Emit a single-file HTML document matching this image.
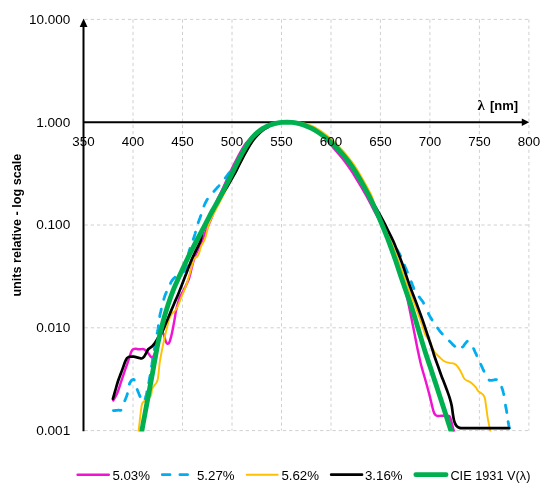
<!DOCTYPE html>
<html><head><meta charset="utf-8"><title>chart</title>
<style>html,body{margin:0;padding:0;background:#fff}body{width:550px;height:491px;overflow:hidden}</style>
</head><body>
<svg width="550" height="491" viewBox="0 0 550 491" style="display:block">
<defs><clipPath id="pc"><rect x="83" y="18" width="447" height="413.4"/></clipPath></defs>
<rect width="550" height="491" fill="#fff"/>
<g stroke="#d0d0d0" stroke-width="1" stroke-dasharray="3.3 2.9" fill="none">
<path d="M84.5 19.4 H529"/>
<path d="M84.5 225.0 H529"/>
<path d="M84.5 327.8 H529"/>
<path d="M84.5 430.6 H529"/>
<path d="M133.0 19.4 V430.6"/>
<path d="M182.5 19.4 V430.6"/>
<path d="M232.0 19.4 V430.6"/>
<path d="M281.5 19.4 V430.6"/>
<path d="M331.0 19.4 V430.6"/>
<path d="M380.4 19.4 V430.6"/>
<path d="M429.9 19.4 V430.6"/>
<path d="M479.4 19.4 V430.6"/>
<path d="M528.9 19.4 V430.6"/>
</g>
<g stroke="#000" stroke-width="2" fill="none"><path d="M83.5 25 V431.2"/><path d="M83.5 122.2 H523"/></g>
<path d="M83.6 18.6 L87.5 27 H79.7 Z" fill="#000"/>
<path d="M529.2 122.2 L521.8 118.5 V125.9 Z" fill="#000"/>
<g font-family="'Liberation Sans', sans-serif" font-size="13" fill="#000">
<text x="29.0" y="23.7" textLength="41.3" lengthAdjust="spacingAndGlyphs">10.000</text>
<text x="36.2" y="126.5" textLength="34.1" lengthAdjust="spacingAndGlyphs">1.000</text>
<text x="36.2" y="229.3" textLength="34.1" lengthAdjust="spacingAndGlyphs">0.100</text>
<text x="36.2" y="332.1" textLength="34.1" lengthAdjust="spacingAndGlyphs">0.010</text>
<text x="36.2" y="434.9" textLength="34.1" lengthAdjust="spacingAndGlyphs">0.001</text>
</g>
<g font-family="'Liberation Sans', sans-serif" font-size="13" font-weight="bold" fill="#000">
<text x="477.5" y="110.1"><tspan font-family="'Liberation Serif', serif" font-weight="bold" font-size="15">λ</tspan><tspan dx="5.1">[nm]</tspan></text>
<text transform="translate(20.5 296.6) rotate(-90)" textLength="142.8" lengthAdjust="spacingAndGlyphs">units relative - log scale</text>
</g>
<g clip-path="url(#pc)" fill="none" stroke-linejoin="round" stroke-linecap="round">
<path d="M113.30 400.40 C113.95 399.22 115.93 396.32 117.20 393.30 C118.47 390.28 119.67 385.97 120.90 382.30 C122.13 378.63 123.48 374.55 124.60 371.30 C125.72 368.05 126.70 365.45 127.60 362.80 C128.50 360.15 129.38 357.23 130.00 355.40 C130.62 353.57 130.78 352.82 131.30 351.80 C131.82 350.78 132.38 349.82 133.10 349.30 C133.82 348.78 134.68 348.70 135.60 348.70 C136.52 348.70 137.58 349.23 138.60 349.30 C139.62 349.37 140.78 349.10 141.70 349.10 C142.62 349.10 143.30 348.95 144.10 349.30 C144.90 349.65 145.68 350.38 146.50 351.20 C147.32 352.02 148.28 353.28 149.00 354.20 C149.72 355.12 150.18 356.18 150.80 356.70 C151.42 357.22 152.00 357.92 152.70 357.30 C153.40 356.68 154.20 355.05 155.00 353.00 C155.80 350.95 156.67 347.75 157.50 345.00 C158.33 342.25 159.25 338.53 160.00 336.50 C160.75 334.47 161.37 333.12 162.00 332.80 C162.63 332.48 163.18 333.18 163.80 334.60 C164.42 336.02 165.08 339.77 165.70 341.30 C166.32 342.83 166.90 343.60 167.50 343.80 C168.10 344.00 168.68 343.73 169.30 342.50 C169.92 341.27 170.58 338.83 171.20 336.40 C171.82 333.97 172.40 330.95 173.00 327.90 C173.60 324.85 174.30 320.95 174.80 318.10 C175.30 315.25 175.48 313.25 176.00 310.80 C176.52 308.35 177.18 305.85 177.90 303.40 C178.62 300.95 179.35 298.27 180.30 296.10 C181.25 293.93 182.13 293.38 183.60 290.40 C185.07 287.42 187.67 282.33 189.10 278.20 C190.53 274.07 191.18 269.33 192.20 265.60 C193.22 261.87 194.08 258.67 195.20 255.80 C196.32 252.93 197.68 251.05 198.90 248.40 C200.12 245.75 201.39 242.63 202.50 239.90 C203.61 237.17 204.51 234.65 205.58 232.00 C206.65 229.35 207.82 226.67 208.94 224.00 C210.05 221.33 211.31 218.67 212.28 216.00 C213.24 213.33 213.91 210.67 214.74 208.00 C215.56 205.33 216.16 202.67 217.23 200.00 C218.30 197.33 219.74 195.00 221.17 192.00 C222.60 189.00 224.36 185.17 225.81 182.00 C227.27 178.83 228.57 175.85 229.90 173.00 C231.23 170.15 232.46 167.57 233.78 164.90 C235.09 162.23 236.55 159.38 237.80 157.00 C239.06 154.62 240.14 152.60 241.30 150.60 C242.46 148.60 243.71 146.53 244.77 145.00 C245.83 143.47 246.50 142.73 247.67 141.40 C248.83 140.07 250.53 138.11 251.76 137.00 C252.98 135.89 253.63 135.85 255.00 134.76 C256.37 133.67 258.33 131.70 260.00 130.45 C261.67 129.21 263.33 128.20 265.00 127.31 C266.67 126.41 268.33 125.70 270.00 125.08 C271.67 124.46 273.33 123.98 275.00 123.58 C276.67 123.18 278.33 122.90 280.00 122.69 C281.67 122.47 283.33 122.35 285.00 122.29 C286.67 122.23 288.33 122.24 290.00 122.34 C291.67 122.44 293.33 122.62 295.00 122.89 C296.67 123.16 298.33 123.52 300.00 123.96 C301.67 124.40 303.33 124.93 305.00 125.54 C306.67 126.16 308.33 126.86 310.00 127.66 C311.67 128.46 313.33 129.35 315.00 130.34 C316.67 131.33 318.10 132.13 320.00 133.57 C321.90 135.02 324.79 137.43 326.37 139.00 C327.96 140.57 328.44 141.67 329.50 143.00 C330.56 144.33 331.66 145.67 332.75 147.00 C333.85 148.33 334.45 149.08 336.08 151.00 C337.70 152.92 340.73 156.33 342.50 158.50 C344.27 160.67 345.30 162.10 346.68 164.00 C348.06 165.90 349.33 167.73 350.76 169.90 C352.20 172.07 353.40 173.98 355.27 177.00 C357.13 180.02 360.18 185.00 361.96 188.00 C363.73 191.00 364.60 192.58 365.92 195.00 C367.25 197.42 368.62 200.00 369.93 202.50 C371.23 205.00 372.36 207.30 373.78 210.00 C375.20 212.70 376.91 215.86 378.45 218.70 C379.98 221.54 381.07 222.65 383.00 227.02 C384.93 231.38 387.67 238.59 390.00 244.87 C392.33 251.15 394.83 258.43 397.00 264.70 C399.17 270.96 401.30 276.89 403.00 282.44 C404.70 287.99 405.82 292.14 407.20 298.00 C408.58 303.86 410.07 311.62 411.30 317.60 C412.53 323.58 413.52 328.47 414.60 333.90 C415.68 339.33 416.72 345.02 417.80 350.20 C418.88 355.38 419.83 360.03 421.10 365.00 C422.37 369.97 423.97 374.85 425.40 380.00 C426.83 385.15 428.38 390.80 429.70 395.90 C431.02 401.00 432.38 407.45 433.30 410.60 C434.22 413.75 434.48 413.90 435.20 414.80 C435.92 415.70 436.58 415.85 437.60 416.00 C438.62 416.15 440.07 415.73 441.30 415.70 C442.53 415.67 443.68 415.75 445.00 415.80 C446.32 415.85 448.20 415.25 449.20 416.00 C450.20 416.75 450.38 418.35 451.00 420.30 C451.62 422.25 452.42 425.87 452.90 427.70 C453.38 429.53 453.55 429.92 453.90 431.30 C454.25 432.68 454.82 435.22 455.00 436.00" stroke="#f013d2" stroke-width="2.45"/>
<path d="M113.4 410.6 L113.6 410.6 L114.3 410.6 L115.1 410.5 L115.9 410.4 L116.7 410.3 L117.4 410.3 L118.0 410.2 L118.5 410.2 L119.0 410.2 L119.5 410.3 L119.9 410.4 L120.3 410.4 L120.7 410.3 L120.9 410.2 M124.8 400.8 L125.0 400.3 L125.4 399.3 L125.8 398.2 L126.2 397.2 L126.6 396.2 L126.9 395.2 L127.3 394.2 L127.4 393.6 M129.4 384.1 L129.7 383.5 L129.9 382.8 L130.2 382.3 L130.5 381.9 L130.7 381.5 L131.0 381.1 L131.3 380.8 L131.5 380.5 L131.7 380.2 L131.9 380.0 L132.1 379.9 L132.3 379.8 L132.5 379.7 L132.7 379.6 L132.9 379.6 L133.1 379.6 L133.3 379.6 L133.4 379.5 L133.6 379.5 L133.7 379.5 L133.9 379.5 L134.1 379.7 L134.3 380.0 L134.3 380.1 M137.2 389.5 L137.4 390.0 L137.8 391.1 L138.2 392.2 L138.7 393.2 L139.1 394.3 L139.5 395.3 L140.0 396.2 L140.1 396.5 M145.1 399.2 L145.1 399.0 L145.4 398.3 L145.6 397.5 L145.8 396.7 L146.0 395.8 L146.3 394.8 L146.5 393.8 L146.7 392.7 L146.8 391.9 M148.7 382.9 L149.0 381.5 L149.3 379.8 L149.7 377.9 L150.0 376.0 L150.1 375.4 M151.5 366.3 L151.8 364.7 L152.2 362.2 L152.6 359.6 L152.7 358.8 M154.2 349.7 L154.6 347.7 L155.2 344.4 L155.5 342.3 M157.1 333.2 L157.4 331.8 L157.6 330.6 L157.8 329.8 L157.9 329.2 L158.0 328.7 L158.1 328.2 L158.2 327.6 L158.3 326.7 L158.4 325.7 M159.7 316.6 L159.8 315.8 L160.0 314.8 L160.2 313.8 L160.4 312.9 L160.7 311.9 L160.9 311.0 L161.1 310.0 L161.3 309.2 M163.8 299.4 L163.8 299.2 L164.1 298.2 L164.4 297.4 L164.6 296.6 L164.9 295.8 L165.2 295.0 L165.5 294.2 L165.9 293.4 L166.3 292.4 L166.4 292.2 M170.5 283.4 L170.8 282.7 L171.2 281.9 L171.6 281.2 L172.0 280.6 L172.3 280.1 L172.7 279.7 L173.0 279.2 L173.4 278.8 L173.8 278.4 L174.2 278.0 L174.7 277.6 L175.0 277.3 M183.2 272.0 L183.4 271.9 L183.8 271.6 L184.3 271.2 L184.6 270.8 L185.0 270.3 L185.3 269.7 L185.6 269.0 L185.8 268.2 L186.0 267.4 L186.2 266.6 L186.4 265.7 L186.5 265.5 M188.2 255.9 L188.3 255.3 L188.4 254.5 L188.6 253.7 L188.7 252.9 L188.9 252.1 L189.1 251.3 L189.3 250.5 L189.5 249.7 L189.8 248.9 L189.9 248.5 M193.3 239.3 L193.4 238.9 L193.7 238.1 L194.0 237.4 L194.2 236.7 L194.4 236.2 L194.5 235.6 L194.7 235.1 L194.8 234.6 L195.0 234.0 L195.2 233.3 L195.4 232.5 L195.5 232.1 M198.2 222.7 L198.5 221.8 L198.9 220.8 L199.2 219.9 L199.5 219.1 L199.9 218.2 L200.2 217.3 L200.5 216.4 L200.9 215.5 M204.0 206.0 L204.3 205.3 L204.7 204.3 L205.1 203.4 L205.6 202.5 L206.0 201.6 L206.5 200.7 L207.0 199.8 L207.4 199.2 M213.9 191.4 L214.4 190.8 L215.1 190.0 L215.8 189.3 L216.5 188.5 L217.1 187.8 L217.8 187.1 L218.5 186.3 L219.0 185.7 M225.3 177.9 L225.5 177.7 L226.1 176.9 L226.7 176.2 L227.2 175.4 L227.8 174.7 L228.3 173.9 L228.9 173.1 L229.6 172.3 L229.9 171.9 M236.6 164.4 L236.6 164.3 L237.2 163.3 L237.7 162.4 L238.2 161.3 L238.6 160.3 L239.1 159.3 L239.5 158.4 L239.9 157.6 M244.8 148.8 L245.0 148.4 L245.5 147.5 L246.0 146.7 L246.5 145.8 L247.0 145.0 L247.5 144.2 L248.0 143.4 L248.5 142.7 L248.8 142.3 M255.1 134.6 L255.5 134.2 L256.0 133.8 L256.5 133.3 L257.0 132.9 L257.5 132.4 L258.0 132.0 L258.5 131.6 L259.0 131.2 L259.5 130.8 L260.0 130.5 L260.5 130.1 L261.0 129.7 M269.8 125.1 L270.0 125.0 L270.5 124.8 L271.0 124.7 L271.5 124.5 L272.0 124.3 L272.5 124.2 L273.0 124.0 L273.5 123.9 L274.0 123.8 L274.5 123.7 L275.0 123.5 L275.5 123.4 L276.0 123.3 L276.5 123.2 L277.0 123.1 L277.2 123.1 M287.2 122.2 L287.5 122.2 L288.0 122.2 L288.5 122.3 L289.0 122.3 L289.5 122.3 L290.0 122.3 L290.5 122.3 L291.0 122.4 L291.5 122.4 L292.0 122.4 L292.5 122.5 L293.0 122.6 L293.5 122.6 L294.0 122.7 L294.5 122.8 L294.7 122.8 M304.4 125.3 L304.5 125.4 L305.0 125.5 L305.5 125.7 L306.0 125.9 L306.5 126.1 L307.0 126.3 L307.5 126.5 L308.0 126.7 L308.5 127.0 L309.0 127.2 L309.5 127.4 L310.0 127.6 L310.5 127.9 L311.0 128.1 L311.4 128.3 M320.0 133.6 L320.0 133.6 L320.5 133.9 L321.0 134.3 L321.5 134.6 L322.0 135.0 L322.5 135.4 L323.0 135.8 L323.5 136.1 L324.0 136.5 L324.5 136.9 L325.0 137.3 L325.5 137.7 L326.0 138.1 L326.1 138.1 M333.6 144.8 L334.0 145.2 L334.5 145.7 L335.0 146.2 L335.5 146.7 L336.0 147.2 L336.5 147.7 L337.0 148.2 L337.5 148.7 L338.0 149.2 L338.5 149.8 L338.9 150.2 M345.5 157.8 L345.5 157.8 L346.0 158.4 L346.5 159.1 L347.0 159.7 L347.5 160.3 L348.0 161.0 L348.5 161.6 L349.0 162.3 L349.5 163.0 L350.0 163.6 L350.1 163.8 M355.7 172.2 L356.0 172.6 L356.5 173.5 L357.0 174.3 L357.5 175.1 L358.0 176.0 L358.5 176.9 L359.0 177.8 L359.5 178.6 L359.5 178.7 M364.5 187.5 L364.5 187.6 L365.0 188.5 L365.5 189.4 L366.0 190.3 L366.5 191.3 L367.0 192.2 L367.5 193.2 L368.0 194.1 L368.0 194.2 M372.5 203.2 L373.0 204.1 L373.5 205.2 L374.0 206.2 L374.5 207.3 L375.0 208.4 L375.5 209.5 L375.8 210.0 M379.8 219.2 L380.0 219.8 L380.5 221.0 L381.0 222.2 L381.5 223.4 L382.0 224.6 L382.5 225.8 L382.7 226.3 M386.1 235.7 L386.6 237.0 L387.2 238.3 L388.0 239.6 L389.0 240.9 L390.0 242.1 M396.9 249.5 L397.9 251.0 L399.0 252.9 L400.1 255.0 L400.6 256.1 M404.5 265.3 L405.0 266.6 L406.0 268.9 L407.0 271.2 L407.4 272.3 M411.2 281.7 L411.9 283.4 L412.6 285.3 L413.2 286.8 L413.6 287.8 L413.8 288.3 L413.9 288.5 L413.9 288.5 L413.9 288.4 L413.9 288.4 L413.9 288.4 M419.2 297.0 L419.4 297.2 L420.0 298.0 L420.5 298.7 L421.0 299.3 L421.5 299.9 L421.9 300.5 L422.4 301.2 L423.0 302.0 L423.5 302.9 L423.6 303.2 M428.4 313.4 L428.4 313.5 L428.9 314.5 L429.4 315.4 L429.8 316.2 L430.2 316.9 L430.6 317.6 L431.1 318.4 L431.6 319.1 L432.1 320.0 L432.1 320.0 M437.6 328.1 L437.7 328.2 L438.3 329.0 L438.8 329.8 L439.3 330.5 L439.8 331.1 L440.3 331.8 L440.9 332.4 L441.5 333.1 L442.2 333.9 L442.3 334.0 M449.4 341.0 L449.6 341.2 L450.3 341.9 L451.0 342.7 L451.7 343.3 L452.3 344.0 L452.8 344.6 L453.4 345.1 L453.9 345.6 L454.5 346.1 L454.8 346.3 M462.4 347.0 L462.6 346.9 L463.0 346.6 L463.4 346.2 L463.7 345.8 L464.0 345.3 L464.3 344.9 L464.6 344.4 L464.9 344.0 L465.2 343.6 L465.5 343.2 L465.8 342.9 L466.1 342.5 L466.3 342.2 L466.6 341.9 L466.9 341.6 L467.1 341.4 L467.3 341.3 M473.6 348.6 L473.9 349.2 L474.2 350.1 L474.6 350.9 L475.0 351.8 L475.5 352.8 L475.9 353.7 L476.4 354.7 L476.7 355.6 M480.7 364.3 L481.1 365.2 L481.6 366.1 L482.0 367.0 L482.4 367.9 L482.8 368.8 L483.2 369.6 L483.6 370.5 L484.0 371.2 M489.1 380.1 L489.2 380.2 L489.6 380.3 L490.0 380.4 L490.5 380.4 L491.0 380.4 L491.5 380.4 L492.0 380.3 L492.5 380.2 L493.0 380.2 L493.4 380.1 L493.9 380.0 L494.3 379.9 L494.8 379.8 L495.2 379.6 L495.6 379.6 L496.0 379.5 L496.4 379.6 L496.5 379.6 M501.7 387.3 L501.9 387.8 L502.2 388.7 L502.5 389.7 L502.8 390.7 L503.1 391.7 L503.4 392.8 L503.7 393.8 L503.8 394.6 M505.5 405.1 L505.5 405.4 L505.7 406.5 L505.9 407.7 L506.2 408.9 L506.4 410.1 L506.6 411.2 L506.8 412.4 L506.8 412.6 M508.1 421.7 L508.2 422.1 L508.4 423.0 L508.5 423.9 L508.7 424.8 L508.9 425.6 L509.0 426.3 L509.2 427.0 L509.3 427.6 L509.4 428.0" stroke="#00adef" stroke-width="2.8"/>
<path d="M138.00 436.00 C138.10 435.20 138.20 434.65 138.60 431.20 C139.00 427.75 139.88 419.58 140.40 415.30 C140.92 411.02 141.28 407.63 141.70 405.50 C142.12 403.37 142.18 403.42 142.90 402.50 C143.62 401.58 144.68 401.12 146.00 400.00 C147.32 398.88 149.80 397.52 150.80 395.80 C151.80 394.08 151.48 391.33 152.00 389.70 C152.52 388.07 153.18 387.13 153.90 386.00 C154.62 384.87 155.62 384.23 156.30 382.90 C156.98 381.57 157.42 381.48 158.00 378.00 C158.58 374.52 159.13 366.67 159.80 362.00 C160.47 357.33 161.33 353.45 162.00 350.00 C162.67 346.55 163.18 344.17 163.80 341.30 C164.42 338.43 165.08 335.45 165.70 332.80 C166.32 330.15 166.80 327.95 167.50 325.40 C168.20 322.85 169.08 319.53 169.90 317.50 C170.72 315.47 171.48 314.42 172.40 313.20 C173.32 311.98 174.48 311.42 175.40 310.20 C176.32 308.98 177.08 307.63 177.90 305.90 C178.72 304.17 179.48 301.83 180.30 299.80 C181.12 297.77 181.73 296.35 182.80 293.70 C183.87 291.05 185.45 287.57 186.70 283.90 C187.95 280.23 189.28 275.17 190.30 271.70 C191.32 268.23 192.08 265.45 192.80 263.10 C193.52 260.75 193.90 258.62 194.60 257.60 C195.30 256.58 196.28 257.72 197.00 257.00 C197.72 256.28 198.18 255.13 198.90 253.30 C199.62 251.47 200.28 248.43 201.30 246.00 C202.32 243.57 203.65 242.57 205.00 238.70 C206.35 234.83 207.65 227.50 209.40 222.80 C211.15 218.10 213.45 214.58 215.50 210.50 C217.55 206.42 219.65 202.37 221.70 198.30 C223.75 194.23 226.28 189.15 227.80 186.10 C229.32 183.05 229.57 182.35 230.80 180.00 C232.03 177.65 233.91 174.67 235.19 172.00 C236.47 169.33 237.35 166.67 238.50 164.00 C239.66 161.33 240.84 158.67 242.11 156.00 C243.39 153.33 244.76 150.50 246.15 148.00 C247.53 145.50 248.92 143.17 250.44 141.00 C251.95 138.83 253.49 136.83 255.23 135.00 C256.98 133.17 259.73 131.11 260.90 130.00 C262.08 128.89 261.23 129.08 262.30 128.35 C263.37 127.63 265.63 126.41 267.30 125.63 C268.97 124.86 270.63 124.25 272.30 123.73 C273.97 123.20 275.63 122.81 277.30 122.49 C278.97 122.17 280.63 121.97 282.30 121.82 C283.97 121.68 285.85 121.67 287.30 121.60 C288.75 121.54 289.55 121.37 291.00 121.44 C292.45 121.50 294.33 121.72 296.00 121.99 C297.67 122.26 299.18 122.75 301.00 123.06 C302.82 123.37 305.08 123.36 306.90 123.84 C308.72 124.33 310.23 125.16 311.90 125.96 C313.57 126.76 315.23 127.65 316.90 128.64 C318.57 129.63 320.23 130.71 321.90 131.87 C323.57 133.03 325.23 134.27 326.90 135.59 C328.57 136.91 330.23 138.31 331.90 139.80 C333.57 141.28 335.23 142.84 336.90 144.49 C338.57 146.15 340.23 147.89 341.90 149.73 C343.57 151.56 345.23 153.46 346.90 155.50 C348.57 157.53 350.23 159.62 351.90 161.93 C353.57 164.25 355.23 166.74 356.90 169.38 C358.57 172.03 360.23 174.92 361.90 177.81 C363.57 180.70 365.23 183.66 366.90 186.74 C368.57 189.82 370.58 193.25 371.90 196.29 C373.22 199.34 373.52 201.88 374.80 205.00 C376.08 208.12 378.02 211.67 379.57 215.00 C381.11 218.33 382.59 221.67 384.06 225.00 C385.53 228.33 386.98 231.67 388.39 235.00 C389.79 238.33 391.16 241.67 392.49 245.00 C393.82 248.33 395.16 251.83 396.38 255.00 C397.59 258.17 398.57 260.67 399.77 264.00 C400.96 267.33 402.33 271.50 403.55 275.00 C404.77 278.50 405.84 281.67 407.08 285.00 C408.32 288.33 409.67 291.67 410.99 295.00 C412.30 298.33 413.70 301.67 414.96 305.00 C416.23 308.33 417.40 311.67 418.58 315.00 C419.77 318.33 420.94 321.67 422.08 325.00 C423.23 328.33 424.10 332.25 425.45 335.00 C426.81 337.75 429.16 339.65 430.20 341.50 C431.24 343.35 430.97 344.33 431.70 346.10 C432.43 347.87 433.32 350.28 434.60 352.10 C435.88 353.92 437.78 355.47 439.40 357.00 C441.02 358.53 442.67 360.32 444.30 361.30 C445.93 362.28 447.57 362.50 449.20 362.90 C450.83 363.30 452.67 363.05 454.10 363.70 C455.53 364.35 456.58 365.27 457.80 366.80 C459.02 368.33 460.28 370.87 461.40 372.90 C462.52 374.93 463.27 377.58 464.50 379.00 C465.73 380.42 467.65 380.75 468.80 381.40 C469.95 382.05 470.25 381.95 471.40 382.90 C472.55 383.85 474.52 385.68 475.70 387.10 C476.88 388.52 477.32 390.20 478.50 391.40 C479.68 392.60 481.73 393.12 482.80 394.30 C483.87 395.48 484.30 396.13 484.90 398.50 C485.50 400.87 485.92 405.17 486.40 408.50 C486.88 411.83 487.33 415.65 487.80 418.50 C488.27 421.35 488.77 423.47 489.20 425.60 C489.63 427.73 490.07 429.57 490.40 431.30 C490.73 433.03 491.07 435.22 491.20 436.00" stroke="#ffc000" stroke-width="1.9"/>
<path d="M112.90 398.80 C113.42 397.00 115.08 391.13 116.00 388.00 C116.92 384.87 117.38 382.98 118.40 380.00 C119.42 377.02 120.97 373.18 122.10 370.10 C123.23 367.02 124.38 363.50 125.20 361.50 C126.02 359.50 126.30 358.90 127.00 358.10 C127.70 357.30 128.28 356.93 129.40 356.70 C130.52 356.47 132.27 356.55 133.70 356.70 C135.13 356.85 136.67 357.30 138.00 357.60 C139.33 357.90 140.68 358.65 141.70 358.50 C142.72 358.35 143.30 357.72 144.10 356.70 C144.90 355.68 145.77 353.68 146.50 352.40 C147.23 351.12 147.55 350.03 148.50 349.00 C149.45 347.97 151.07 347.28 152.20 346.20 C153.33 345.12 154.20 344.12 155.30 342.50 C156.40 340.88 157.62 338.33 158.80 336.50 C159.98 334.67 161.20 333.75 162.40 331.50 C163.60 329.25 164.72 326.05 166.00 323.00 C167.28 319.95 168.73 316.47 170.10 313.20 C171.47 309.93 172.82 306.65 174.20 303.40 C175.58 300.15 176.67 297.97 178.40 293.70 C180.13 289.43 182.55 283.10 184.60 277.80 C186.65 272.50 188.85 266.38 190.70 261.90 C192.55 257.42 194.08 254.37 195.70 250.90 C197.32 247.43 199.33 244.08 200.40 241.10 C201.47 238.12 201.27 235.68 202.13 233.00 C202.99 230.32 204.31 227.67 205.56 225.00 C206.80 222.33 208.23 219.67 209.62 217.00 C211.00 214.33 212.38 211.67 213.85 209.00 C215.33 206.33 216.94 203.67 218.48 201.00 C220.03 198.33 221.52 195.67 223.13 193.00 C224.75 190.33 226.68 187.50 228.19 185.00 C229.70 182.50 230.80 180.50 232.21 178.00 C233.61 175.50 235.07 173.00 236.64 170.00 C238.21 167.00 239.89 163.33 241.63 160.00 C243.36 156.67 245.21 153.17 247.05 150.00 C248.89 146.83 250.90 143.50 252.65 141.00 C254.40 138.50 255.80 136.83 257.56 135.00 C259.32 133.17 261.35 131.42 263.20 130.00 C265.06 128.58 267.24 127.45 268.70 126.50 C270.17 125.55 270.62 124.89 272.00 124.33 C273.38 123.76 275.33 123.41 277.00 123.09 C278.67 122.77 280.33 122.57 282.00 122.42 C283.67 122.28 285.33 122.20 287.00 122.20 C288.67 122.21 290.33 122.28 292.00 122.45 C293.67 122.61 295.33 122.87 297.00 123.21 C298.67 123.55 300.33 123.97 302.00 124.48 C303.67 124.99 305.33 125.59 307.00 126.28 C308.67 126.97 310.33 127.74 312.00 128.62 C313.67 129.49 315.33 130.47 317.00 131.53 C318.67 132.59 320.33 133.75 322.00 134.97 C323.67 136.20 325.33 137.50 327.00 138.88 C328.67 140.27 330.33 141.74 332.00 143.29 C333.67 144.84 335.33 146.47 337.00 148.19 C338.67 149.92 340.33 151.74 342.00 153.65 C343.67 155.56 345.33 157.53 347.00 159.66 C348.67 161.79 350.33 164.00 352.00 166.45 C353.67 168.89 355.33 171.56 357.00 174.32 C358.67 177.09 360.33 180.06 362.00 183.03 C363.67 186.01 365.63 189.68 367.00 192.17 C368.37 194.67 369.05 195.86 370.24 198.00 C371.44 200.14 372.75 202.50 374.18 205.00 C375.62 207.50 377.43 210.50 378.85 213.00 C380.27 215.50 381.19 217.17 382.68 220.00 C384.18 222.83 386.06 226.50 387.82 230.00 C389.58 233.50 391.58 237.33 393.23 241.00 C394.87 244.67 396.19 248.17 397.71 252.00 C399.24 255.83 400.98 260.17 402.37 264.00 C403.76 267.83 404.86 271.50 406.04 275.00 C407.23 278.50 408.28 281.67 409.48 285.00 C410.69 288.33 412.12 292.00 413.26 295.00 C414.41 298.00 415.27 300.17 416.34 303.00 C417.40 305.83 418.56 309.00 419.65 312.00 C420.74 315.00 421.96 318.33 422.89 321.00 C423.82 323.67 424.41 325.58 425.21 328.00 C426.02 330.42 426.87 333.00 427.70 335.50 C428.53 338.00 429.40 340.58 430.20 343.00 C431.01 345.42 431.85 347.83 432.55 350.00 C433.24 352.17 433.47 353.33 434.37 356.00 C435.27 358.67 436.73 362.58 437.95 366.00 C439.16 369.42 440.81 374.17 441.66 376.50 C442.52 378.83 442.24 377.78 443.10 380.00 C443.96 382.22 445.68 386.75 446.80 389.80 C447.92 392.85 448.98 395.65 449.80 398.30 C450.62 400.95 451.18 403.05 451.70 405.70 C452.22 408.35 452.47 411.57 452.90 414.20 C453.33 416.83 453.70 419.57 454.30 421.50 C454.90 423.43 455.62 424.73 456.50 425.80 C457.38 426.87 458.37 427.52 459.60 427.90 C460.83 428.28 460.50 428.07 463.90 428.10 C467.30 428.13 472.47 428.10 480.00 428.10 C487.53 428.10 504.25 428.10 509.10 428.10" stroke="#000" stroke-width="2.7"/>
<path d="M133.49 471.96 C134.31 468.38 136.79 458.84 138.44 450.52 C140.09 442.21 141.74 431.21 143.39 422.09 C145.04 412.97 146.69 404.70 148.34 395.81 C149.99 386.91 151.64 377.70 153.29 368.71 C154.94 359.72 156.59 349.77 158.24 341.85 C159.88 333.93 161.53 327.39 163.18 321.17 C164.83 314.95 166.48 309.63 168.13 304.53 C169.78 299.44 171.43 294.86 173.08 290.61 C174.73 286.37 176.38 282.79 178.03 279.05 C179.68 275.31 181.33 271.75 182.98 268.20 C184.63 264.65 186.28 261.17 187.93 257.77 C189.58 254.37 191.23 251.02 192.88 247.81 C194.53 244.60 196.18 241.60 197.83 238.50 C199.48 235.41 201.13 232.35 202.78 229.22 C204.43 226.09 206.08 222.86 207.73 219.70 C209.37 216.55 211.02 213.33 212.67 210.29 C214.32 207.26 215.97 204.49 217.62 201.49 C219.27 198.50 220.92 195.45 222.57 192.30 C224.22 189.15 225.87 185.86 227.52 182.58 C229.17 179.31 230.82 176.03 232.47 172.65 C234.12 169.27 235.77 165.60 237.42 162.30 C239.07 159.00 240.72 155.86 242.37 152.88 C244.02 149.90 245.67 146.96 247.32 144.40 C248.97 141.84 250.62 139.47 252.27 137.49 C253.92 135.51 255.57 133.99 257.22 132.54 C258.86 131.10 260.51 129.89 262.16 128.83 C263.81 127.77 265.46 126.93 267.11 126.17 C268.76 125.42 270.41 124.82 272.06 124.30 C273.71 123.79 275.36 123.40 277.01 123.09 C278.66 122.78 280.31 122.57 281.96 122.43 C283.61 122.28 285.26 122.20 286.91 122.20 C288.56 122.20 290.21 122.26 291.86 122.42 C293.51 122.58 295.16 122.84 296.81 123.17 C298.46 123.49 300.11 123.90 301.76 124.40 C303.41 124.89 305.06 125.48 306.71 126.15 C308.35 126.82 310.00 127.56 311.65 128.42 C313.30 129.27 314.95 130.23 316.60 131.26 C318.25 132.30 319.90 133.43 321.55 134.63 C323.20 135.83 324.85 137.10 326.50 138.45 C328.15 139.81 329.80 141.24 331.45 142.76 C333.10 144.27 334.75 145.86 336.40 147.55 C338.05 149.23 339.70 151.01 341.35 152.88 C343.00 154.74 344.65 156.66 346.30 158.73 C347.95 160.80 349.60 162.91 351.25 165.28 C352.90 167.65 354.55 170.23 356.19 172.93 C357.84 175.63 359.49 178.58 361.14 181.49 C362.79 184.40 364.44 187.32 366.09 190.41 C367.74 193.50 369.39 196.66 371.04 200.02 C372.69 203.37 374.34 206.90 375.99 210.56 C377.64 214.22 379.29 218.06 380.94 221.98 C382.59 225.90 384.24 229.90 385.89 234.08 C387.54 238.26 389.19 242.57 390.84 247.07 C392.49 251.57 394.14 256.27 395.79 261.07 C397.44 265.87 399.09 271.01 400.74 275.87 C402.39 280.73 404.04 285.52 405.69 290.23 C407.33 294.93 408.98 299.15 410.63 304.11 C412.28 309.07 413.93 314.54 415.58 319.96 C417.23 325.37 418.88 331.15 420.53 336.61 C422.18 342.07 423.83 347.55 425.48 352.72 C427.13 357.88 428.78 362.60 430.43 367.58 C432.08 372.57 433.73 377.61 435.38 382.62 C437.03 387.64 438.68 392.61 440.33 397.67 C441.98 402.73 443.63 407.83 445.28 412.98 C446.93 418.12 448.58 423.37 450.23 428.55 C451.88 433.73 453.53 438.84 455.18 444.04 C456.82 449.25 459.30 457.17 460.12 459.79" stroke="#00b050" stroke-width="4.9"/>
</g>
<g font-family="'Liberation Sans', sans-serif" font-size="13.5" fill="#000">
<text x="72.3" y="145.6" textLength="22.3" lengthAdjust="spacingAndGlyphs">350</text>
<text x="121.8" y="145.6" textLength="22.3" lengthAdjust="spacingAndGlyphs">400</text>
<text x="171.3" y="145.6" textLength="22.3" lengthAdjust="spacingAndGlyphs">450</text>
<text x="220.8" y="145.6" textLength="22.3" lengthAdjust="spacingAndGlyphs">500</text>
<text x="270.3" y="145.6" textLength="22.3" lengthAdjust="spacingAndGlyphs">550</text>
<text x="319.8" y="145.6" textLength="22.3" lengthAdjust="spacingAndGlyphs">600</text>
<text x="369.3" y="145.6" textLength="22.3" lengthAdjust="spacingAndGlyphs">650</text>
<text x="418.8" y="145.6" textLength="22.3" lengthAdjust="spacingAndGlyphs">700</text>
<text x="468.3" y="145.6" textLength="22.3" lengthAdjust="spacingAndGlyphs">750</text>
<text x="517.8" y="145.6" textLength="22.3" lengthAdjust="spacingAndGlyphs">800</text>
</g>
<g fill="none" stroke-linecap="round">
<path d="M77.6 474.7 H108.8" stroke="#f013d2" stroke-width="2.45"/>
<path d="M162.3 474.7 H170.0 M179.9 474.7 H187.6" stroke="#00adef" stroke-width="2.8"/>
<path d="M246.7 474.7 H277.7" stroke="#ffc000" stroke-width="1.9"/>
<path d="M331.2 474.7 H362" stroke="#000" stroke-width="2.7"/>
<path d="M415.8 474.7 H446.1" stroke="#00b050" stroke-width="4.7"/>
</g>
<g font-family="'Liberation Sans', sans-serif" font-size="13.5" fill="#000">
<text x="112.4" y="479.5" textLength="37.6" lengthAdjust="spacingAndGlyphs">5.03%</text>
<text x="197.0" y="479.5" textLength="37.6" lengthAdjust="spacingAndGlyphs">5.27%</text>
<text x="281.4" y="479.5" textLength="37.6" lengthAdjust="spacingAndGlyphs">5.62%</text>
<text x="365.0" y="479.5" textLength="37.6" lengthAdjust="spacingAndGlyphs">3.16%</text>
<text x="450.4" y="479.5" textLength="80" lengthAdjust="spacingAndGlyphs">CIE 1931 V(λ)</text>
</g>
</svg>
</body></html>
